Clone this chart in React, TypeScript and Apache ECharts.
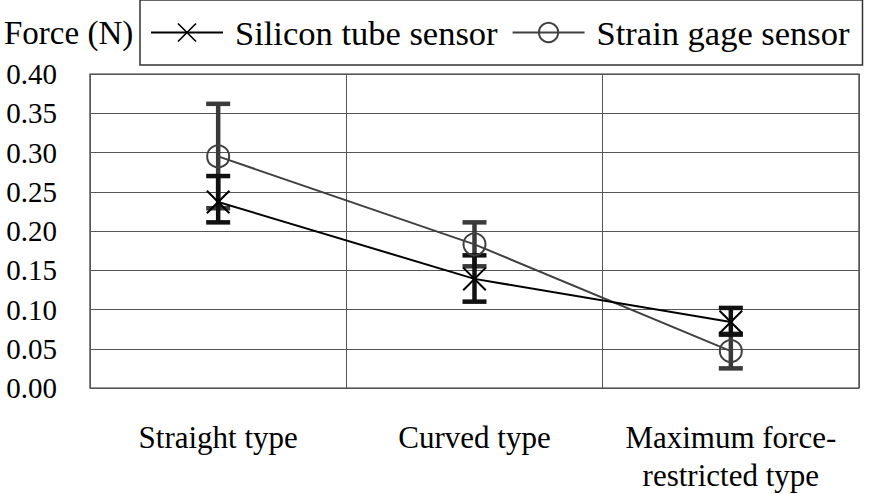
import React, { useEffect, useRef } from "react";
import * as echarts from "echarts";

const categories = ["Straight type", "Curved type", "Maximum force-\nrestricted type"];
const siliconMean = [0.237, 0.139, 0.084];
const siliconLow = [0.211, 0.11, 0.068];
const siliconHigh = [0.27, 0.169, 0.102];
const strainMean = [0.295, 0.183, 0.047];
const strainLow = [0.229, 0.155, 0.025];
const strainHigh = [0.362, 0.211, 0.069];
const yTicks = { min: 0, max: 0.4, interval: 0.05 };

const FONT = "Times New Roman";
const X_PATH = "path://M0,0.6 L0.6,0 L10,9.4 L9.4,10 Z M9.4,0 L10,0.6 L0.6,10 L0,9.4 Z";

function errorBar(low: number[], high: number[], color: string) {
  return {
    type: "custom",
    silent: true,
    data: low.map((l, i) => [i, l, high[i]]),
    encode: { x: 0, y: [1, 2] },
    renderItem: (params: any, api: any) => {
      const i = api.value(0);
      const lo = api.coord([i, api.value(1)]);
      const hi = api.coord([i, api.value(2)]);
      const hw = 12;
      const style = { stroke: color, lineWidth: 4.5 };
      return {
        type: "group",
        children: [
          { type: "line", shape: { x1: lo[0], y1: lo[1], x2: hi[0], y2: hi[1] }, style },
          { type: "line", shape: { x1: hi[0] - hw, y1: hi[1], x2: hi[0] + hw, y2: hi[1] }, style },
          { type: "line", shape: { x1: lo[0] - hw, y1: lo[1], x2: lo[0] + hw, y2: lo[1] }, style },
        ],
      };
    },
    z: 2,
  };
}

export default function App() {
  const ref = useRef<HTMLDivElement>(null);
  useEffect(() => {
    if (!ref.current) return;
    const chart = echarts.init(ref.current, undefined, { renderer: "svg" });
    chart.setOption({
      animation: false,
      textStyle: { fontFamily: FONT },
      title: {
        text: "Force (N)",
        left: 4,
        top: 16,
        padding: 0,
        textStyle: { fontFamily: FONT, fontSize: 33, fontWeight: "normal", color: "#000" },
      },
      legend: {
        left: 140,
        top: 0,
        padding: [15, 13, 15, 10],
        borderColor: "#333",
        borderWidth: 1.5,
        itemWidth: 72,
        itemHeight: 24,
        itemGap: 14,
        data: ["Silicon tube sensor", "Strain gage sensor"],
        textStyle: { fontFamily: FONT, fontSize: 34.5, color: "#000", padding: [0, 0, 0, 7] },
      },
      grid: { left: 90, right: 11, top: 74, bottom: 106, show: true, borderColor: "#333", borderWidth: 1.2 },
      xAxis: {
        type: "category",
        data: categories,
        boundaryGap: true,
        axisLine: { show: false },
        axisTick: { show: false },
        splitLine: { show: true, lineStyle: { color: "#555", width: 1 } },
        axisLabel: { fontFamily: FONT, fontSize: 31, lineHeight: 38, color: "#000", margin: 30, interval: 0 },
      },
      yAxis: {
        type: "value",
        min: yTicks.min,
        max: yTicks.max,
        interval: yTicks.interval,
        axisLine: { show: false },
        axisTick: { show: false },
        splitLine: { show: true, lineStyle: { color: "#555", width: 1 } },
        axisLabel: {
          fontFamily: FONT,
          fontSize: 29,
          color: "#000",
          margin: 33,
          formatter: (v: number) => v.toFixed(2),
        },
      },
      series: [
        errorBar(strainLow, strainHigh, "#3a3a3a"),
        {
          name: "Strain gage sensor",
          type: "line",
          data: strainMean,
          symbol: "circle",
          symbolSize: 22,
          lineStyle: { color: "#404040", width: 2 },
          itemStyle: { color: "rgba(255,255,255,0)", borderColor: "#404040", borderWidth: 2 },
          z: 3,
        },
        errorBar(siliconLow, siliconHigh, "#111"),
        {
          name: "Silicon tube sensor",
          type: "line",
          data: siliconMean,
          symbol: X_PATH,
          symbolSize: 24,
          lineStyle: { color: "#000", width: 2 },
          itemStyle: { color: "#000" },
          z: 5,
        },
      ],
    });
    return () => chart.dispose();
  }, []);
  return <div ref={ref} style={{ width: 870, height: 494, position: "absolute", left: 0, top: 0 }} />;
}
